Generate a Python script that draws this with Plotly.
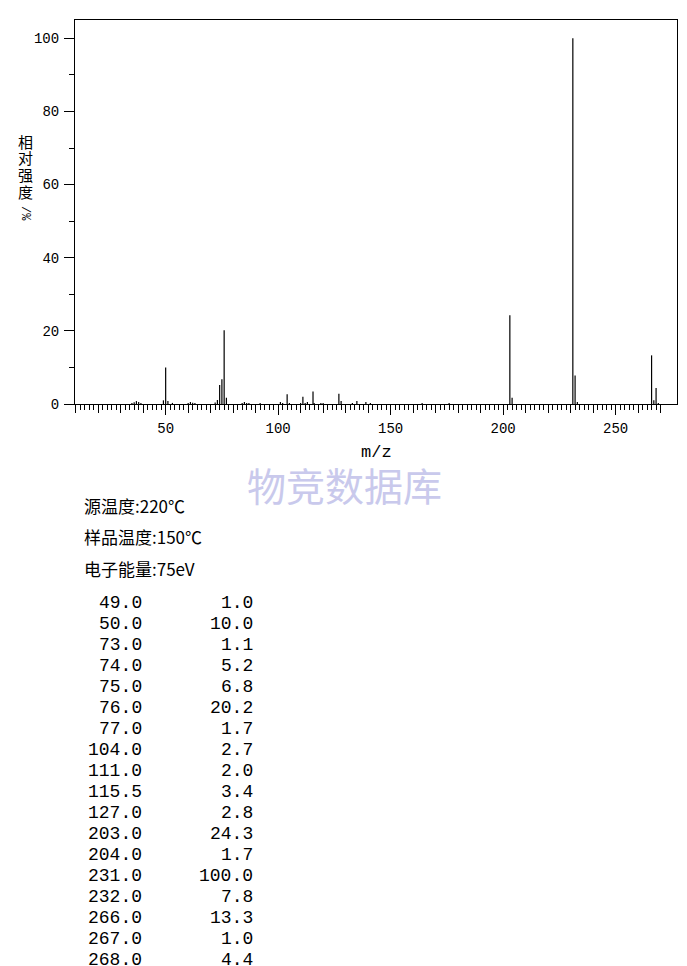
import plotly.graph_objects as go

# ---- data ----
mz = [35, 36, 37, 38, 39, 49, 50, 51, 53, 60, 61, 62, 63,
      72, 73, 74, 75, 76, 77, 84, 85, 86, 87, 92, 101, 102, 104, 105,
      110, 111, 112, 113, 115.5, 116, 119, 120, 127, 128, 133, 135, 139, 141,
      164, 176, 203, 204, 231, 232, 233, 266, 267, 268, 269]
intensity = [0.3, 0.45, 0.8, 0.55, 0.3, 1.0, 10.0, 0.8, 0.3, 0.3, 0.55, 0.35, 0.3,
             0.4, 1.1, 5.2, 6.8, 20.2, 1.7, 0.3, 0.55, 0.3, 0.3, 0.3, 0.55, 0.3, 2.7, 0.3,
             0.3, 2.0, 0.3, 0.55, 3.4, 0.3, 0.3, 0.3, 2.8, 0.8, 0.3, 0.8, 0.55, 0.3,
             0.3, 0.3, 24.3, 1.7, 100.0, 7.8, 0.55, 13.3, 1.0, 4.4, 0.3]

table_mz = ["49.0", "50.0", "73.0", "74.0", "75.0", "76.0", "77.0", "104.0", "111.0",
            "115.5", "127.0", "203.0", "204.0", "231.0", "232.0", "266.0", "267.0", "268.0"]
table_int = ["1.0", "10.0", "1.1", "5.2", "6.8", "20.2", "1.7", "2.7", "2.0",
             "3.4", "2.8", "24.3", "1.7", "100.0", "7.8", "13.3", "1.0", "4.4"]

info_lines = ["源温度:220℃", "样品温度:150℃", "电子能量:75eV"]
ylabel_chars = ["相", "对", "强", "度"]
watermark = "物竞数据库"

x_range = [9.7, 277.3]
y_range = [0, 105]
x_major = [50, 100, 150, 200, 250]
x_mid = list(range(10, 271, 10))
x_minor = list(range(10, 271, 2))
y_major = [0, 20, 40, 60, 80, 100]
y_minor = [10, 30, 50, 70, 90]

# ---- layout geometry (pixels) ----
W, H = 687, 966
L, R, T, B = 75, 10, 20, 562
plot_w = W - L - R
plot_h = H - T - B


def px(xp):
    return (xp - L) / plot_w


def py(yp):
    return (H - B - yp) / plot_h


# stick spectrum built from the data
xs, ys = [], []
for m, v in zip(mz, intensity):
    xs += [m, m, None]
    ys += [0, v, None]

fig = go.Figure()
fig.add_trace(go.Scatter(x=xs, y=ys, mode="lines",
                         line=dict(color="black", width=1.2),
                         hoverinfo="skip", showlegend=False))
# invisible trace on the overlay axis for medium ticks
fig.add_trace(go.Scatter(x=[x_range[0]], y=[0], xaxis="x2", mode="markers",
                         marker=dict(opacity=0), showlegend=False, hoverinfo="skip"))

tickfont = dict(family="Liberation Mono", size=14, color="black")

fig.update_layout(
    width=W, height=H,
    margin=dict(l=L, r=R, t=T, b=B),
    paper_bgcolor="white", plot_bgcolor="white",
    xaxis=dict(range=x_range, showgrid=False, zeroline=False,
               showline=True, linecolor="black", linewidth=1, mirror=True,
               ticks="outside", tickmode="array", tickvals=x_major,
               ticklen=10, tickwidth=1, tickcolor="black",
               tickfont=tickfont, ticklabelstandoff=1,
               minor=dict(tickmode="array", tickvals=x_minor, ticks="outside",
                          ticklen=5, tickwidth=1, tickcolor="black", showgrid=False)),
    xaxis2=dict(range=x_range, overlaying="x", side="bottom", anchor="y",
                showgrid=False, zeroline=False, showline=False,
                ticks="outside", tickmode="array", tickvals=x_mid,
                ticklen=8, tickwidth=1, tickcolor="black", showticklabels=False),
    yaxis=dict(range=y_range, showgrid=False, zeroline=False,
               showline=True, linecolor="black", linewidth=1, mirror=True,
               ticks="outside", tickmode="array", tickvals=y_major,
               ticklen=10, tickwidth=1, tickcolor="black",
               tickfont=tickfont, ticklabelstandoff=2,
               minor=dict(tickmode="array", tickvals=y_minor, ticks="outside",
                          ticklen=5, tickwidth=1, tickcolor="black", showgrid=False)),
)

ann = []
# x-axis title
ann.append(dict(text="m/z", x=px(376), y=py(452), xref="paper", yref="paper",
                showarrow=False, xanchor="center", yanchor="middle",
                font=dict(family="Liberation Mono", size=17, color="black")))
# y-axis title: stacked characters
for i, ch in enumerate(ylabel_chars):
    ann.append(dict(text=ch, x=px(25), y=py(141 + i * 16.8), xref="paper", yref="paper",
                    showarrow=False, xanchor="center", yanchor="middle",
                    font=dict(family="Noto Sans CJK SC", size=15, color="black")))
ann.append(dict(text="/%", x=px(25), y=py(213), xref="paper", yref="paper",
                showarrow=False, xanchor="center", yanchor="middle", textangle=90,
                font=dict(family="Liberation Mono", size=12, color="black")))
# watermark
ann.append(dict(text=watermark, x=px(344), y=py(484), xref="paper", yref="paper",
                showarrow=False, xanchor="center", yanchor="middle",
                font=dict(family="Noto Sans CJK SC", size=39, color="#c9c9ec")))
# info lines
for i, line in enumerate(info_lines):
    ann.append(dict(text=line, x=px(82), y=py(505 + i * 31.5), xref="paper", yref="paper",
                    showarrow=False, xanchor="left", yanchor="middle",
                    font=dict(family="Noto Sans CJK SC", size=17, color="black")))
# peak table
for i, (a, b) in enumerate(zip(table_mz, table_int)):
    yy = py(603 + i * 21)
    ann.append(dict(text=a, x=px(144), y=yy, xref="paper", yref="paper",
                    showarrow=False, xanchor="right", yanchor="middle",
                    font=dict(family="Liberation Mono", size=18, color="black")))
    ann.append(dict(text=b, x=px(255), y=yy, xref="paper", yref="paper",
                    showarrow=False, xanchor="right", yanchor="middle",
                    font=dict(family="Liberation Mono", size=18, color="black")))

fig.update_layout(annotations=ann)
fig.write_html("out.html", config={"displayModeBar": False},
               post_script="document.body.style.margin='0';"
                           "document.body.style.overflow='hidden';"
                           "document.documentElement.style.overflow='hidden';")
